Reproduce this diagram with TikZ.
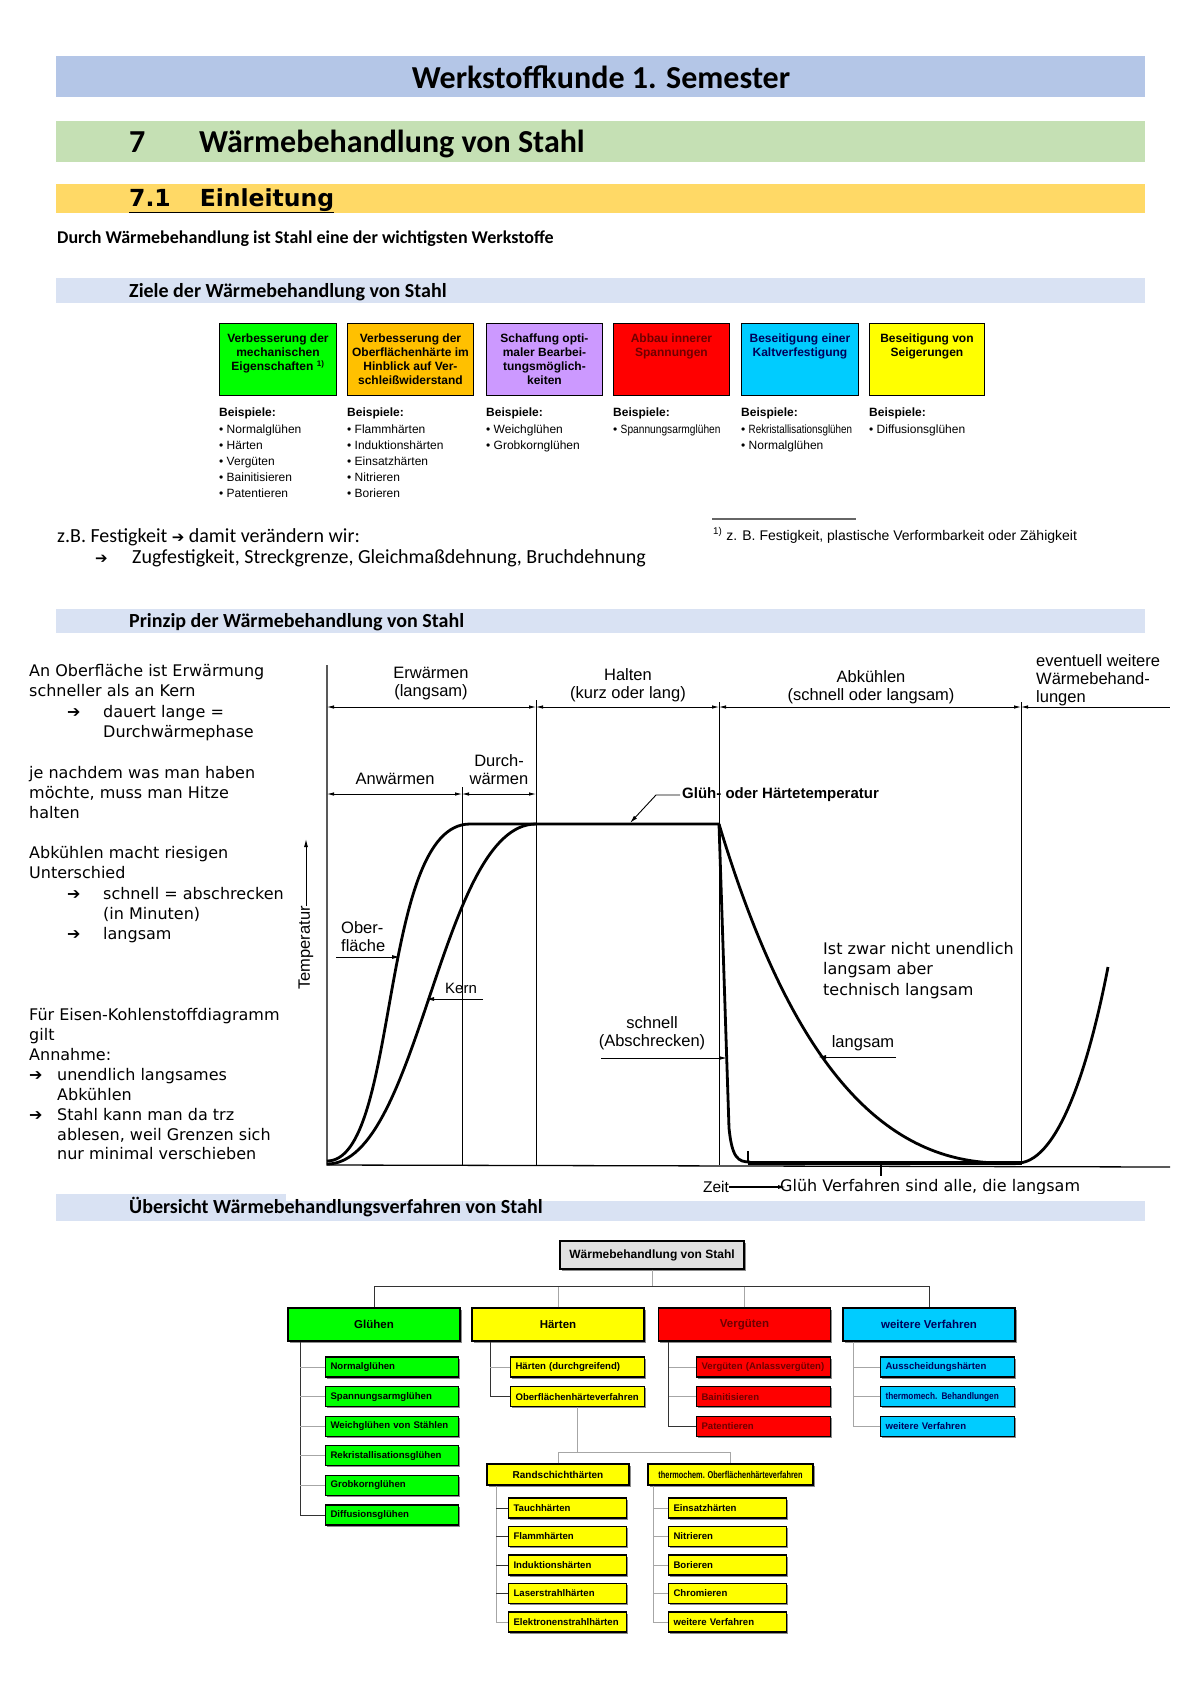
\documentclass[tikz,border=0pt]{standalone}
\usepackage{fontspec}
\setmainfont{Carlito}
\newfontfamily\notefont{DejaVu Sans}
\newfontfamily\chartfont{Liberation Sans}
\usetikzlibrary{arrows.meta,shadows,positioning}
\definecolor{titleblue}{RGB}{180,198,231}
\definecolor{chapgreen}{RGB}{197,224,180}
\definecolor{secyellow}{RGB}{255,217,102}
\definecolor{barblue}{RGB}{217,226,243}
\definecolor{boxgreen}{RGB}{0,255,0}
\definecolor{boxorange}{RGB}{255,192,0}
\definecolor{boxlilac}{RGB}{204,153,255}
\definecolor{boxred}{RGB}{255,0,0}
\definecolor{boxcyan}{RGB}{0,204,255}
\definecolor{boxyellow}{RGB}{255,255,0}
\definecolor{rootgray}{RGB}{224,224,224}
\definecolor{darkred}{RGB}{110,0,0}
\definecolor{darknavy}{RGB}{0,0,90}
\newcommand{\setfs}[2]{\fontsize{#1}{#2}\selectfont}

\begin{document}
\begin{tikzpicture}
    [x=1pt, y=-1pt,
    heading/.style={anchor=base west, inner sep=0pt, font=\bfseries\setfs{20}{24}},
    goalbox/.style={draw, line width=0.9pt, anchor=north west, minimum height=72pt, inner sep=0pt},
    goaltext/.style={align=center, inner sep=0pt, font=\chartfont\bfseries\setfs{12}{14}},
    examples/.style={align=left, inner sep=0pt, font=\chartfont\setfs{12}{16.2}},
    note/.style={anchor=base west, inner sep=0pt, font=\notefont\setfs{16}{20}},
    chartlabel/.style={inner sep=0pt, align=center, font=\chartfont\setfs{16.5}{18}},
    dimline/.style={{Latex[length=7pt,width=3.5pt]}-{Latex[length=7pt,width=3.5pt]}, line width=0.8pt},
    guide/.style={line width=0.7pt},
    curve/.style={line width=2.8pt, line join=round},
    pointer/.style={-{Latex[length=8pt,width=4pt]}, line width=0.9pt},
    orgbox/.style={draw, line width=1.1pt, inner sep=0pt, drop shadow={shadow xshift=1.5pt, shadow yshift=-1.5pt, fill=black!45, opacity=1}},
    rootbox/.style={orgbox, fill=rootgray, minimum width=184pt, minimum height=28pt, font=\chartfont\bfseries\setfs{12}{14}},
    topbox/.style={orgbox, minimum width=172pt, minimum height=33pt, font=\chartfont\bfseries\setfs{11.5}{13}},
    midbox/.style={orgbox, fill=boxyellow, minimum height=21pt, font=\chartfont\bfseries\setfs{10}{12}},
    subbox/.style={orgbox, anchor=west, minimum height=20pt, inner xsep=5pt, text width=#1, align=left, font=\chartfont\bfseries\setfs{9.6}{11}},
    treeline/.style={line width=1pt, black!80},
    lightline/.style={line width=1pt, black!35}]

    \fill[white] (0,0) rectangle (1200,1698);
    \useasboundingbox (0,0) rectangle (1200,1698);

    % title bars
    \fill[titleblue] (56,56) rectangle (1145,97);
    \node[anchor=base, inner sep=0pt, font=\bfseries\setfs{32}{36}] (title) at (601,88) {Werkstoffkunde 1. Semester};
    \fill[chapgreen] (56,121) rectangle (1145,162);
    \node[heading, font=\bfseries\setfs{32}{36}] (chapnum) at (129,152) {7};
    \node[heading, font=\bfseries\setfs{32}{36}] (chaptitle) at (199,152) {Wärmebehandlung von Stahl};
    \fill[secyellow] (56,184) rectangle (1145,213);
    \node[heading, font=\notefont\bfseries\setfs{23.5}{26}] (section) at (129,206) {\underline{7.1\hspace{29pt}Einleitung}};
    \node[heading, font=\bfseries\setfs{18}{20}] (intro) at (57,243) {Durch Wärmebehandlung ist Stahl eine der wichtigsten Werkstoffe};

    \fill[barblue] (56,278) rectangle (1145,303);
    \node[heading] (goals) at (129,297) {Ziele der Wärmebehandlung von Stahl};

    % goal boxes
    \node[goalbox, fill=boxgreen, minimum width=117pt] (goal1) at (219,323) {};
    \node[goalbox, fill=boxorange, minimum width=126pt] (goal2) at (347,323) {};
    \node[goalbox, fill=boxlilac, minimum width=116pt] (goal3) at (486,323) {};
    \node[goalbox, fill=boxred, minimum width=116pt] (goal4) at (613,323) {};
    \node[goalbox, fill=boxcyan, minimum width=117pt] (goal5) at (741,323) {};
    \node[goalbox, fill=boxyellow, minimum width=115pt] (goal6) at (869,323) {};
    \node[goaltext, below=11pt of goal1.north] (goal1txt) {Verbesserung der\\mechanischen\\Eigenschaften \textsuperscript{1)}};
    \node[goaltext, below=11pt of goal2.north] (goal2txt) {Verbesserung der\\Oberflächenhärte im\\Hinblick auf Ver-\\schleißwiderstand};
    \node[goaltext, below=11pt of goal3.north] (goal3txt) {Schaffung opti-\\maler Bearbei-\\tungsmöglich-\\keiten};
    \node[goaltext, below=11pt of goal4.north, text=darkred] (goal4txt) {Abbau innerer\\Spannungen};
    \node[goaltext, below=11pt of goal5.north, text=darknavy] (goal5txt) {Beseitigung einer\\Kaltverfestigung};
    \node[goaltext, below=11pt of goal6.north] (goal6txt) {Beseitigung von\\Seigerungen};

    \node[examples, below=12pt of goal1.south west, anchor=north west] (ex1) {\textbf{Beispiele:}\\• Normalglühen\\• Härten\\• Vergüten\\• Bainitisieren\\• Patentieren};
    \node[examples, below=12pt of goal2.south west, anchor=north west] (ex2) {\textbf{Beispiele:}\\• Flammhärten\\• Induktionshärten\\• Einsatzhärten\\• Nitrieren\\• Borieren};
    \node[examples, below=12pt of goal3.south west, anchor=north west] (ex3) {\textbf{Beispiele:}\\• Weichglühen\\• Grobkornglühen};
    \node[examples, below=12pt of goal4.south west, anchor=north west] (ex4) {\textbf{Beispiele:}\\• \scalebox{0.85}[1]{Spannungsarmglühen}};
    \node[examples, below=12pt of goal5.south west, anchor=north west] (ex5) {\textbf{Beispiele:}\\• \scalebox{0.82}[1]{Rekristallisationsglühen}\\• Normalglühen};
    \node[examples, below=12pt of goal6.south west, anchor=north west] (ex6) {\textbf{Beispiele:}\\• Diffusionsglühen};

    \node[heading, font=\setfs{20}{22}] (strength) at (57,542) {z.B. Festigkeit {\notefont\setfs{15}{18}➔} damit verändern wir:};
    \node[heading, font=\notefont\setfs{15}{18}] (strengtharrow) at (95,563) {➔};
    \node[heading, font=\setfs{20}{22}] (strengthlist) at (132,563) {Zugfestigkeit, Streckgrenze, Gleichmaßdehnung, Bruchdehnung};
    \draw[line width=1.2pt, black!60] (712,519) -- (856,519);
    \node[heading, font=\chartfont\setfs{14}{16}] (footnote) at (713,540) {\textsuperscript{1)} z. B. Festigkeit, plastische Verformbarkeit oder Zähigkeit};

    \fill[barblue] (56,609) rectangle (1145,633);
    \node[heading] (principle) at (129,627) {Prinzip der Wärmebehandlung von Stahl};

    % notes beside the chart
    \foreach \x/\y/\txt [count=\i] in {
      29/676/{An Oberfläche ist Erwärmung}, 29/696/{schneller als an Kern},
      67/717/{➔}, 103/717/{dauert lange =}, 103/737/{Durchwärmephase},
      29/778/{je nachdem was man haben}, 29/798/{möchte, muss man Hitze}, 29/818/{halten},
      29/858/{Abkühlen macht riesigen}, 29/878/{Unterschied},
      67/899/{➔}, 103/899/{schnell = abschrecken}, 103/919/{(in Minuten)},
      67/939/{➔}, 103/939/{langsam},
      29/1020/{Für Eisen-Kohlenstoffdiagramm}, 29/1040/{gilt}, 29/1060/{Annahme:},
      29/1080/{➔}, 57/1080/{unendlich langsames}, 57/1100/{Abkühlen},
      29/1120/{➔}, 57/1120/{Stahl kann man da trz}, 57/1140/{ablesen, weil Grenzen sich},
      57/1159/{nur minimal verschieben}}
      \node[note] (side\i) at (\x,\y) {\txt};

    % chart
    \coordinate (ytop) at (327,665);
    \coordinate (orig) at (327,1165);
    \coordinate (xend) at (1170,1167);
    \draw[line width=1.3pt] (ytop) -- (orig) -- (xend);
    \coordinate (bAnw) at (462,787);
    \coordinate (bErw) at (536,700);
    \coordinate (bHal) at (719,702);
    \coordinate (bAbk) at (1021,702);
    \foreach \b in {bAnw,bErw,bHal,bAbk}
      \draw[guide] (\b) -- (\b |- orig);

    \coordinate (t0) at (327,707);
    \coordinate (t1) at (536,707);
    \coordinate (t2) at (719,707);
    \coordinate (t3) at (1021,707);
    \coordinate (t4) at (1170,707);
    \coordinate (u0) at (327,794);
    \coordinate (u1) at (462,794);
    \coordinate (u2) at (536,794);
    \draw[dimline] (t0) -- (t1);
    \draw[dimline] (t1) -- (t2);
    \draw[dimline] (t2) -- (t3);
    \draw[{Latex[length=7pt,width=3.5pt]}-, line width=0.8pt] (t3) -- (t4);
    \draw[dimline] (u0) -- (u1);
    \draw[dimline] (u1) -- (u2);

    \node[chartlabel] (heatlbl) at (431,684) {Erwärmen\\(langsam)};
    \node[chartlabel] (holdlbl) at (628,685) {Halten\\(kurz oder lang)};
    \node[chartlabel] (coollbl) at (871,687) {Abkühlen\\(schnell oder langsam)};
    \node[chartlabel, anchor=west, align=left] (morelbl) at (1036,680) {eventuell weitere\\Wärmebehand-\\lungen};
    \node[chartlabel] (warmlbl) at (395,779) {Anwärmen};
    \node[chartlabel] (throughlbl) at (499,770) {Durch-\\wärmen};

    \draw[curve] (327,1161) .. controls (400,1161) and (378,824) .. (470,824) -- (719,824);
    \draw[curve] (327,1164) .. controls (420,1164) and (440,824) .. (536,824);
    \draw[curve] (719,824) -- (729,1128) .. controls (732,1158) and (738,1162) .. (750,1162);
    \draw[curve] (719,824) .. controls (790,1060) and (880,1162) .. (1000,1163);
    \draw[line width=3.5pt] (748,1163) -- (1021,1163);
    \draw[curve] (1019,1163) .. controls (1060,1160) and (1090,1060) .. (1108,967);
    \draw[line width=1.3pt] (748,1151) -- (748,1163);
    \draw[line width=1.3pt] (881,1165) -- (881,1176);

    \node[chartlabel, rotate=90] (templbl) at (306,948) {Temperatur};
    \coordinate (temptip) at (306,839);
    \draw[pointer] (templbl.east) -- (temptip);

    \node[chartlabel, anchor=west, font=\chartfont\bfseries\setfs{15}{18}] (gluehtemp) at (682,795) {Glüh- oder Härtetemperatur};
    \coordinate (gluehpt) at (630,823);
    \draw[pointer] ([xshift=-2pt]gluehtemp.west) -- ++(-24,0) -- (gluehpt);

    \node[chartlabel, align=left, anchor=west] (surflbl) at (341,937) {Ober-\\fläche};
    \coordinate (surftail) at (336,957);
    \coordinate (surfpt) at (400,957);
    \draw[pointer] (surftail) -- (surfpt);
    \node[chartlabel, font=\chartfont\setfs{15}{18}] (corelbl) at (461,988) {Kern};
    \coordinate (coretail) at (483,999);
    \coordinate (corept) at (426,999);
    \draw[pointer] (coretail) -- (corept);

    \node[chartlabel] (fastlbl) at (652,1033) {schnell\\(Abschrecken)};
    \coordinate (fasttail) at (601,1058);
    \coordinate (fastpt) at (727,1058);
    \draw[pointer] (fasttail) -- (fastpt);
    \node[chartlabel] (slowlbl) at (863,1043) {langsam};
    \coordinate (slowtail) at (896,1057);
    \coordinate (slowpt) at (818,1057);
    \draw[pointer] (slowtail) -- (slowpt);

    \node[note] (slownote) at (823,954) {Ist zwar nicht unendlich};
    \node[note] (slownote2) at (823,974) {langsam aber};
    \node[note] (slownote3) at (823,995) {technisch langsam};

    \node[chartlabel, font=\chartfont\setfs{15.5}{18}] (zeit) at (716,1187) {Zeit};
    \coordinate (zeittip) at (786,1187);
    \draw[pointer, line width=1.2pt] (zeit.east) -- (zeittip);
    \node[note] (gluehnote) at (780,1191) {Glüh Verfahren sind alle, die langsam};
    \node[note] (gluehnote2) at (780,1210) {abkühlen};

    \fill[white] (286,1194) rectangle (1170,1201);
    \fill[barblue] (56,1194) rectangle (286,1221);
    \fill[barblue] (286,1201) rectangle (1145,1221);
    \node[heading] (overview) at (129,1213) {Übersicht Wärmebehandlungsverfahren von Stahl};

    % overview tree
    \node[rootbox] (root) at (652,1255) {Wärmebehandlung von Stahl};
    \node[topbox, fill=boxgreen] (glu) at (374,1324.5) {Glühen};
    \node[topbox, fill=boxyellow] (hae) at (558,1324.5) {Härten};
    \node[topbox, fill=boxred, text=darkred] (verg) at (744.5,1324.5) {Vergüten};
    \node[topbox, fill=boxcyan, text=darknavy] (weit) at (929,1324.5) {weitere Verfahren};
    \draw[lightline] (root.south) -- ++(0,17) coordinate (bus1);
    \draw[treeline] (glu.north) |- (bus1) -| (weit.north);
    \draw[lightline] (hae.north) -- (hae.north |- bus1);
    \draw[lightline] (verg.north) -- (verg.north |- bus1);

    \foreach \t [count=\i] in {Normalglühen, Spannungsarmglühen, Weichglühen von Stählen, Rekristallisationsglühen, Grobkornglühen, Diffusionsglühen}
      \node[subbox=123pt, fill=boxgreen] (glu\i) at (325,{1367+29.6*(\i-1)}) {\t};
    \foreach \t [count=\i] in {Härten (durchgreifend), Oberflächenhärteverfahren}
      \node[subbox=124pt, fill=boxyellow] (hae\i) at (510,{1367+29.6*(\i-1)}) {\t};
    \foreach \t [count=\i] in {Vergüten (Anlassvergüten), Bainitisieren, Patentieren}
      \node[subbox=124pt, fill=boxred, text=darkred] (verg\i) at (696,{1367+29.6*(\i-1)}) {\t};
    \foreach \t [count=\i] in {Ausscheidungshärten, \scalebox{0.86}[1]{thermomech. Behandlungen}, weitere Verfahren}
      \node[subbox=124pt, fill=boxcyan, text=darknavy] (weit\i) at (880,{1367+29.6*(\i-1)}) {\t};

    \coordinate (gluTrunk) at ([xshift=13pt]glu.south west);
    \coordinate (haeTrunk) at ([xshift=19pt]hae.south west);
    \coordinate (vergTrunk) at ([xshift=11pt]verg.south west);
    \coordinate (weitTrunk) at ([xshift=11pt]weit.south west);
    \draw[treeline] (gluTrunk) |- (glu6.west);
    \foreach \i in {1,...,5}
      \draw[lightline] (gluTrunk |- glu\i.west) -- (glu\i.west);
    \draw[treeline] (haeTrunk) |- (hae2.west);
    \draw[lightline] (haeTrunk |- hae1.west) -- (hae1.west);
    \draw[treeline] (vergTrunk) |- (verg3.west);
    \foreach \i in {1,2}
      \draw[lightline] (vergTrunk |- verg\i.west) -- (verg\i.west);
    \draw[lightline] (weitTrunk) |- (weit3.west);
    \foreach \i in {1,2}
      \draw[lightline] (weitTrunk |- weit\i.west) -- (weit\i.west);

    \node[midbox, minimum width=142pt] (rand) at (558,1474.5) {Randschichthärten};
    \node[midbox, minimum width=165pt] (thermo) at (730.5,1474.5) {\scalebox{0.74}[1]{thermochem. Oberflächenhärteverfahren}};
    \draw[lightline] (hae2.south) -- ++(0,45) coordinate (bus2);
    \draw[lightline] (rand.north) |- (bus2) -| (thermo.north);

    \foreach \t [count=\i] in {Tauchhärten, Flammhärten, Induktionshärten, Laserstrahlhärten, Elektronenstrahlhärten}
      \node[subbox=108pt, fill=boxyellow] (rand\i) at (508,{1508+28.5*(\i-1)}) {\t};
    \foreach \t [count=\i] in {Einsatzhärten, Nitrieren, Borieren, Chromieren, weitere Verfahren}
      \node[subbox=108pt, fill=boxyellow] (thermo\i) at (668,{1508+28.5*(\i-1)}) {\t};
    \coordinate (randTrunk) at ([xshift=10pt]rand.south west);
    \coordinate (thermoTrunk) at ([xshift=6pt]thermo.south west);
    \draw[lightline] (randTrunk) |- (rand5.west);
    \draw[lightline] (thermoTrunk) |- (thermo5.west);
    \foreach \i in {1,...,4} {
      \draw[treeline] (randTrunk |- rand\i.west) -- (rand\i.west);
      \draw[lightline] (thermoTrunk |- thermo\i.west) -- (thermo\i.west);
    }

  \end{tikzpicture}
\end{document}
